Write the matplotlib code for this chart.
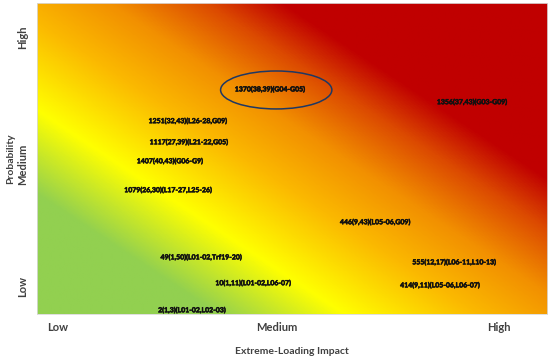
import numpy as np
import matplotlib.pyplot as plt
import matplotlib.patheffects as pe
from matplotlib.colors import LinearSegmentedColormap
from matplotlib.patches import Ellipse

# risk points: label, impact (0-1), probability (0-1)
labels = ["1370(38,39)(G04-G05)", "1356(37,43)(G03-G09)", "1251(32,43)(L26-28,G09)",
          "1117(27,39)(L21-22,G05)", "1407(40,43)(G06-G9)", "1079(26,30)(L17-27,L25-26)",
          "446(9,43)(L05-06,G09)", "49(1,50)(L01-02,Trf19-20)", "555(12,17)(L06-11,L10-13)",
          "10(1,11)(L01-02,L06-07)", "414(9,11)(L05-06,L06-07)", "2(1,3)(L01-02,L02-03)"]
impact = [0.457, 0.853, 0.296, 0.298, 0.261, 0.257, 0.663, 0.322, 0.818, 0.424, 0.790, 0.304]
prob = [0.723, 0.682, 0.621, 0.553, 0.492, 0.399, 0.296, 0.183, 0.167, 0.100, 0.093, 0.013]

tick_names = ["Low", "Medium", "High"]
x_ticks = [0.04, 0.47, 0.905]
y_ticks = [0.087, 0.48, 0.89]

fig = plt.figure(figsize=(5.5, 3.6), dpi=100)
ax = fig.add_axes([0.067, 0.128, 0.928, 0.864])

# diagonal heat gradient green -> yellow -> orange -> red
u, v = np.meshgrid(np.linspace(0, 1, 400), np.linspace(0, 1, 300))
s = u + 0.92 * v
smax = 1.92
cmap = LinearSegmentedColormap.from_list("risk", [
    (0.0, "#92d050"), (0.35 / smax, "#92d050"), (0.6 / smax, "#ffff00"),
    (0.86 / smax, "#fbb900"), (1.06 / smax, "#f29000"), (1.25 / smax, "#dc4a00"),
    (1.40 / smax, "#c00000"), (1.0, "#c00000")])
ax.imshow(s, extent=[0, 1, 0, 1], origin="lower", aspect="auto",
          cmap=cmap, vmin=0, vmax=smax, interpolation="bilinear")

for lab, x, y in zip(labels, impact, prob):
    ax.text(x, y, lab, ha="center", va="center", fontsize=5.0,
            fontweight="bold", family="Lato", color="#111111",
            path_effects=[pe.withStroke(linewidth=0.4, foreground="#111111")])

ax.add_patch(Ellipse((0.469, 0.720), 0.218, 0.122, fill=False,
                     edgecolor="#1f3864", lw=1.1))

ax.set_xlim(0, 1)
ax.set_ylim(0, 1)
ax.set_xticks(x_ticks)
ax.set_xticklabels(tick_names)
ax.set_yticks(y_ticks)
ax.set_yticklabels(tick_names, rotation=90, va="center")
ax.tick_params(length=0, labelsize=8, labelcolor="#404040", pad=6)
for lab in ax.get_xticklabels() + ax.get_yticklabels():
    lab.set_family("Lato")
    lab.set_fontweight("bold")
for sp in ax.spines.values():
    sp.set_color("#d9d9d9")
    sp.set_linewidth(0.6)

ax.set_xlabel("Extreme-Loading Impact", fontsize=7.5, fontweight="bold",
              family="Lato", color="#404040", labelpad=10)
ax.set_ylabel("Probability", fontsize=7.5, fontweight="bold",
              family="Lato", color="#404040", labelpad=2)

fig.savefig("out.png", dpi=100)
